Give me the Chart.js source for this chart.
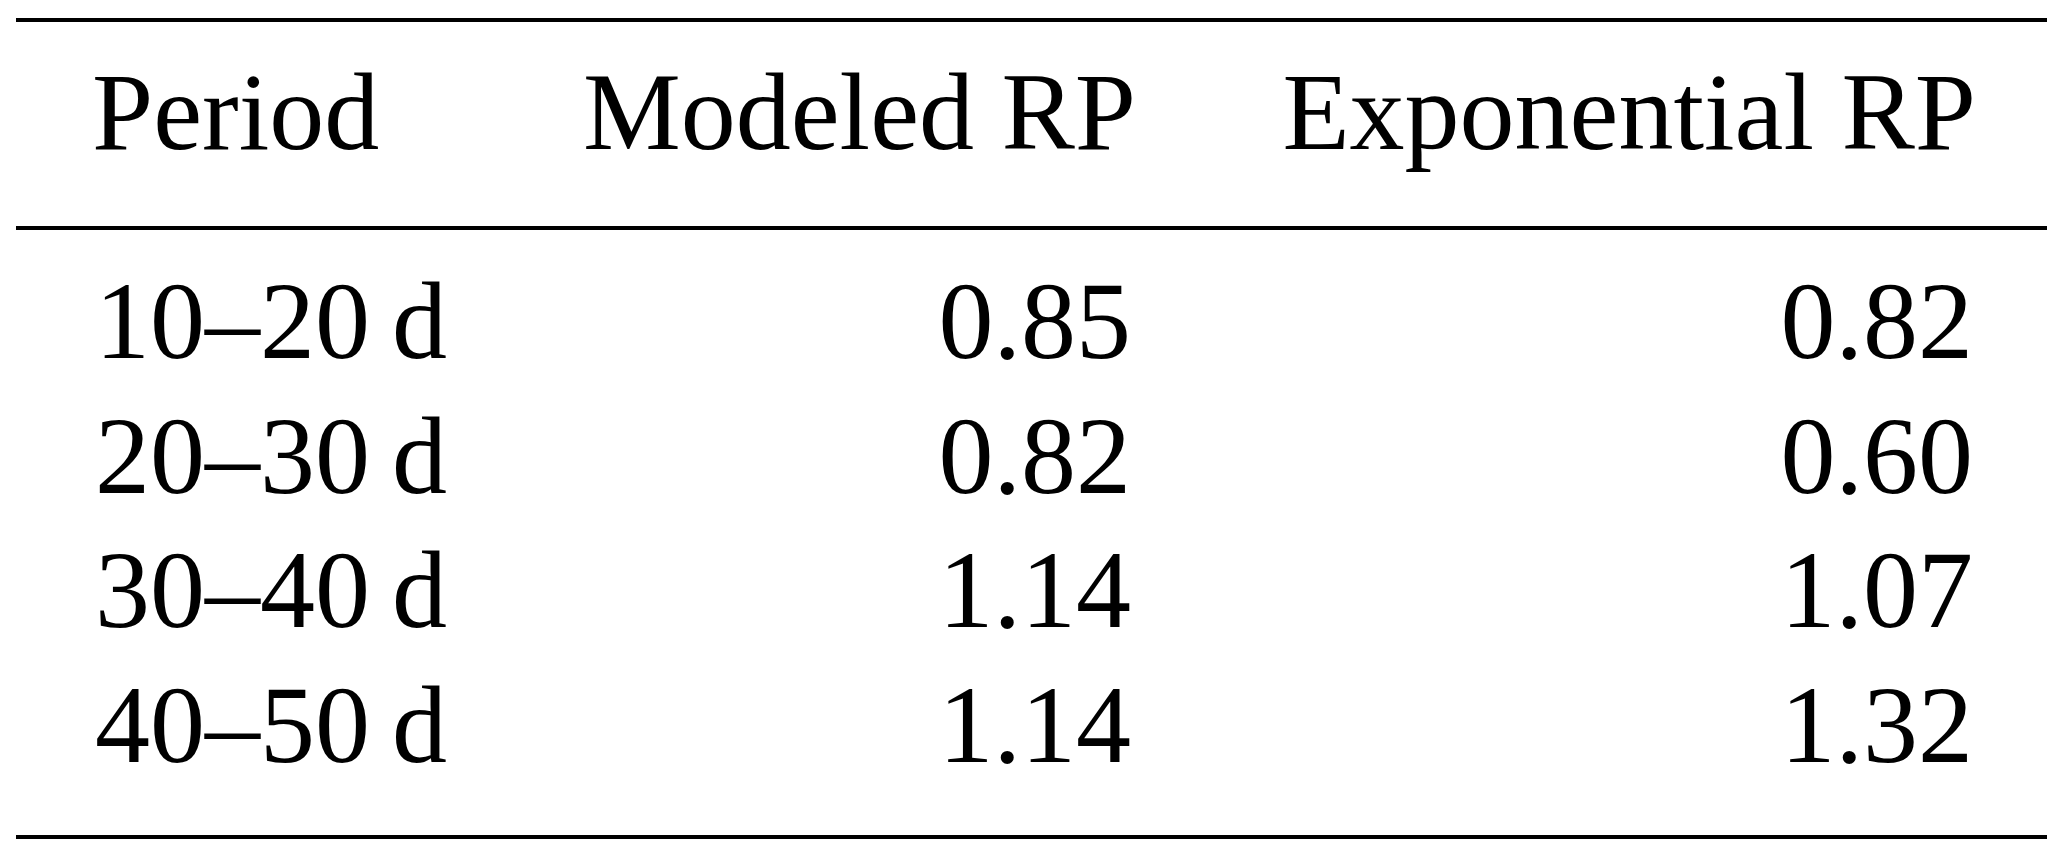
<!DOCTYPE html>
<html><head><meta charset="utf-8">
<script src="https://cdn.jsdelivr.net/npm/chart.js@4/dist/chart.umd.min.js"></script>
<style>html,body{margin:0;padding:0;background:#fff}#w{width:2067px;height:860px}</style>
</head><body><div id="w"><canvas id="c"></canvas></div>
<script>
const headers = ["Period", "Modeled RP", "Exponential RP"];
const periods = ["10\u201320\u2009d", "20\u201330\u2009d", "30\u201340\u2009d", "40\u201350\u2009d"];
const modeledRP = ["0.85", "0.82", "1.14", "1.14"];
const exponentialRP = ["0.82", "0.60", "1.07", "1.32"];

const tablePlugin = {
  id: 'table',
  afterDraw(chart) {
    const ctx = chart.ctx, xs = chart.scales.x, ys = chart.scales.y;
    const X = v => xs.getPixelForValue(v), Y = v => ys.getPixelForValue(v);
    ctx.save();
    ctx.strokeStyle = '#000'; ctx.lineWidth = 4;
    [20, 228, 837].forEach(y => { ctx.beginPath(); ctx.moveTo(X(16), Y(y)); ctx.lineTo(X(2047), Y(y)); ctx.stroke(); });
    ctx.fillStyle = '#000';
    ctx.font = '110px "Liberation Serif", "DejaVu Serif", serif';
    ctx.textBaseline = 'alphabetic';
    ctx.textAlign = 'left'; ctx.fillText(headers[0], X(92), Y(149));
    ctx.textAlign = 'right'; ctx.fillText(headers[1], X(1136), Y(149));
    ctx.fillText(headers[2], X(1976), Y(149));
    const base = [358, 493, 627, 762];
    periods.forEach((p, i) => {
      ctx.textAlign = 'left'; ctx.fillText(p, X(95), Y(base[i]));
      ctx.textAlign = 'right';
      ctx.fillText(modeledRP[i], X(1131), Y(base[i]));
      ctx.fillText(exponentialRP[i], X(1973), Y(base[i]));
    });
    ctx.restore();
  }
};

new Chart(document.getElementById('c'), {
  type: 'scatter',
  data: { datasets: [{ data: [] }] },
  options: {
    responsive: true, maintainAspectRatio: false, animation: false,
    layout: { padding: 0 },
    plugins: { legend: { display: false }, tooltip: { enabled: false } },
    scales: {
      x: { type: 'linear', min: 0, max: 2067, display: false },
      y: { type: 'linear', min: 0, max: 860, reverse: true, display: false }
    }
  },
  plugins: [tablePlugin]
});
</script></body></html>
